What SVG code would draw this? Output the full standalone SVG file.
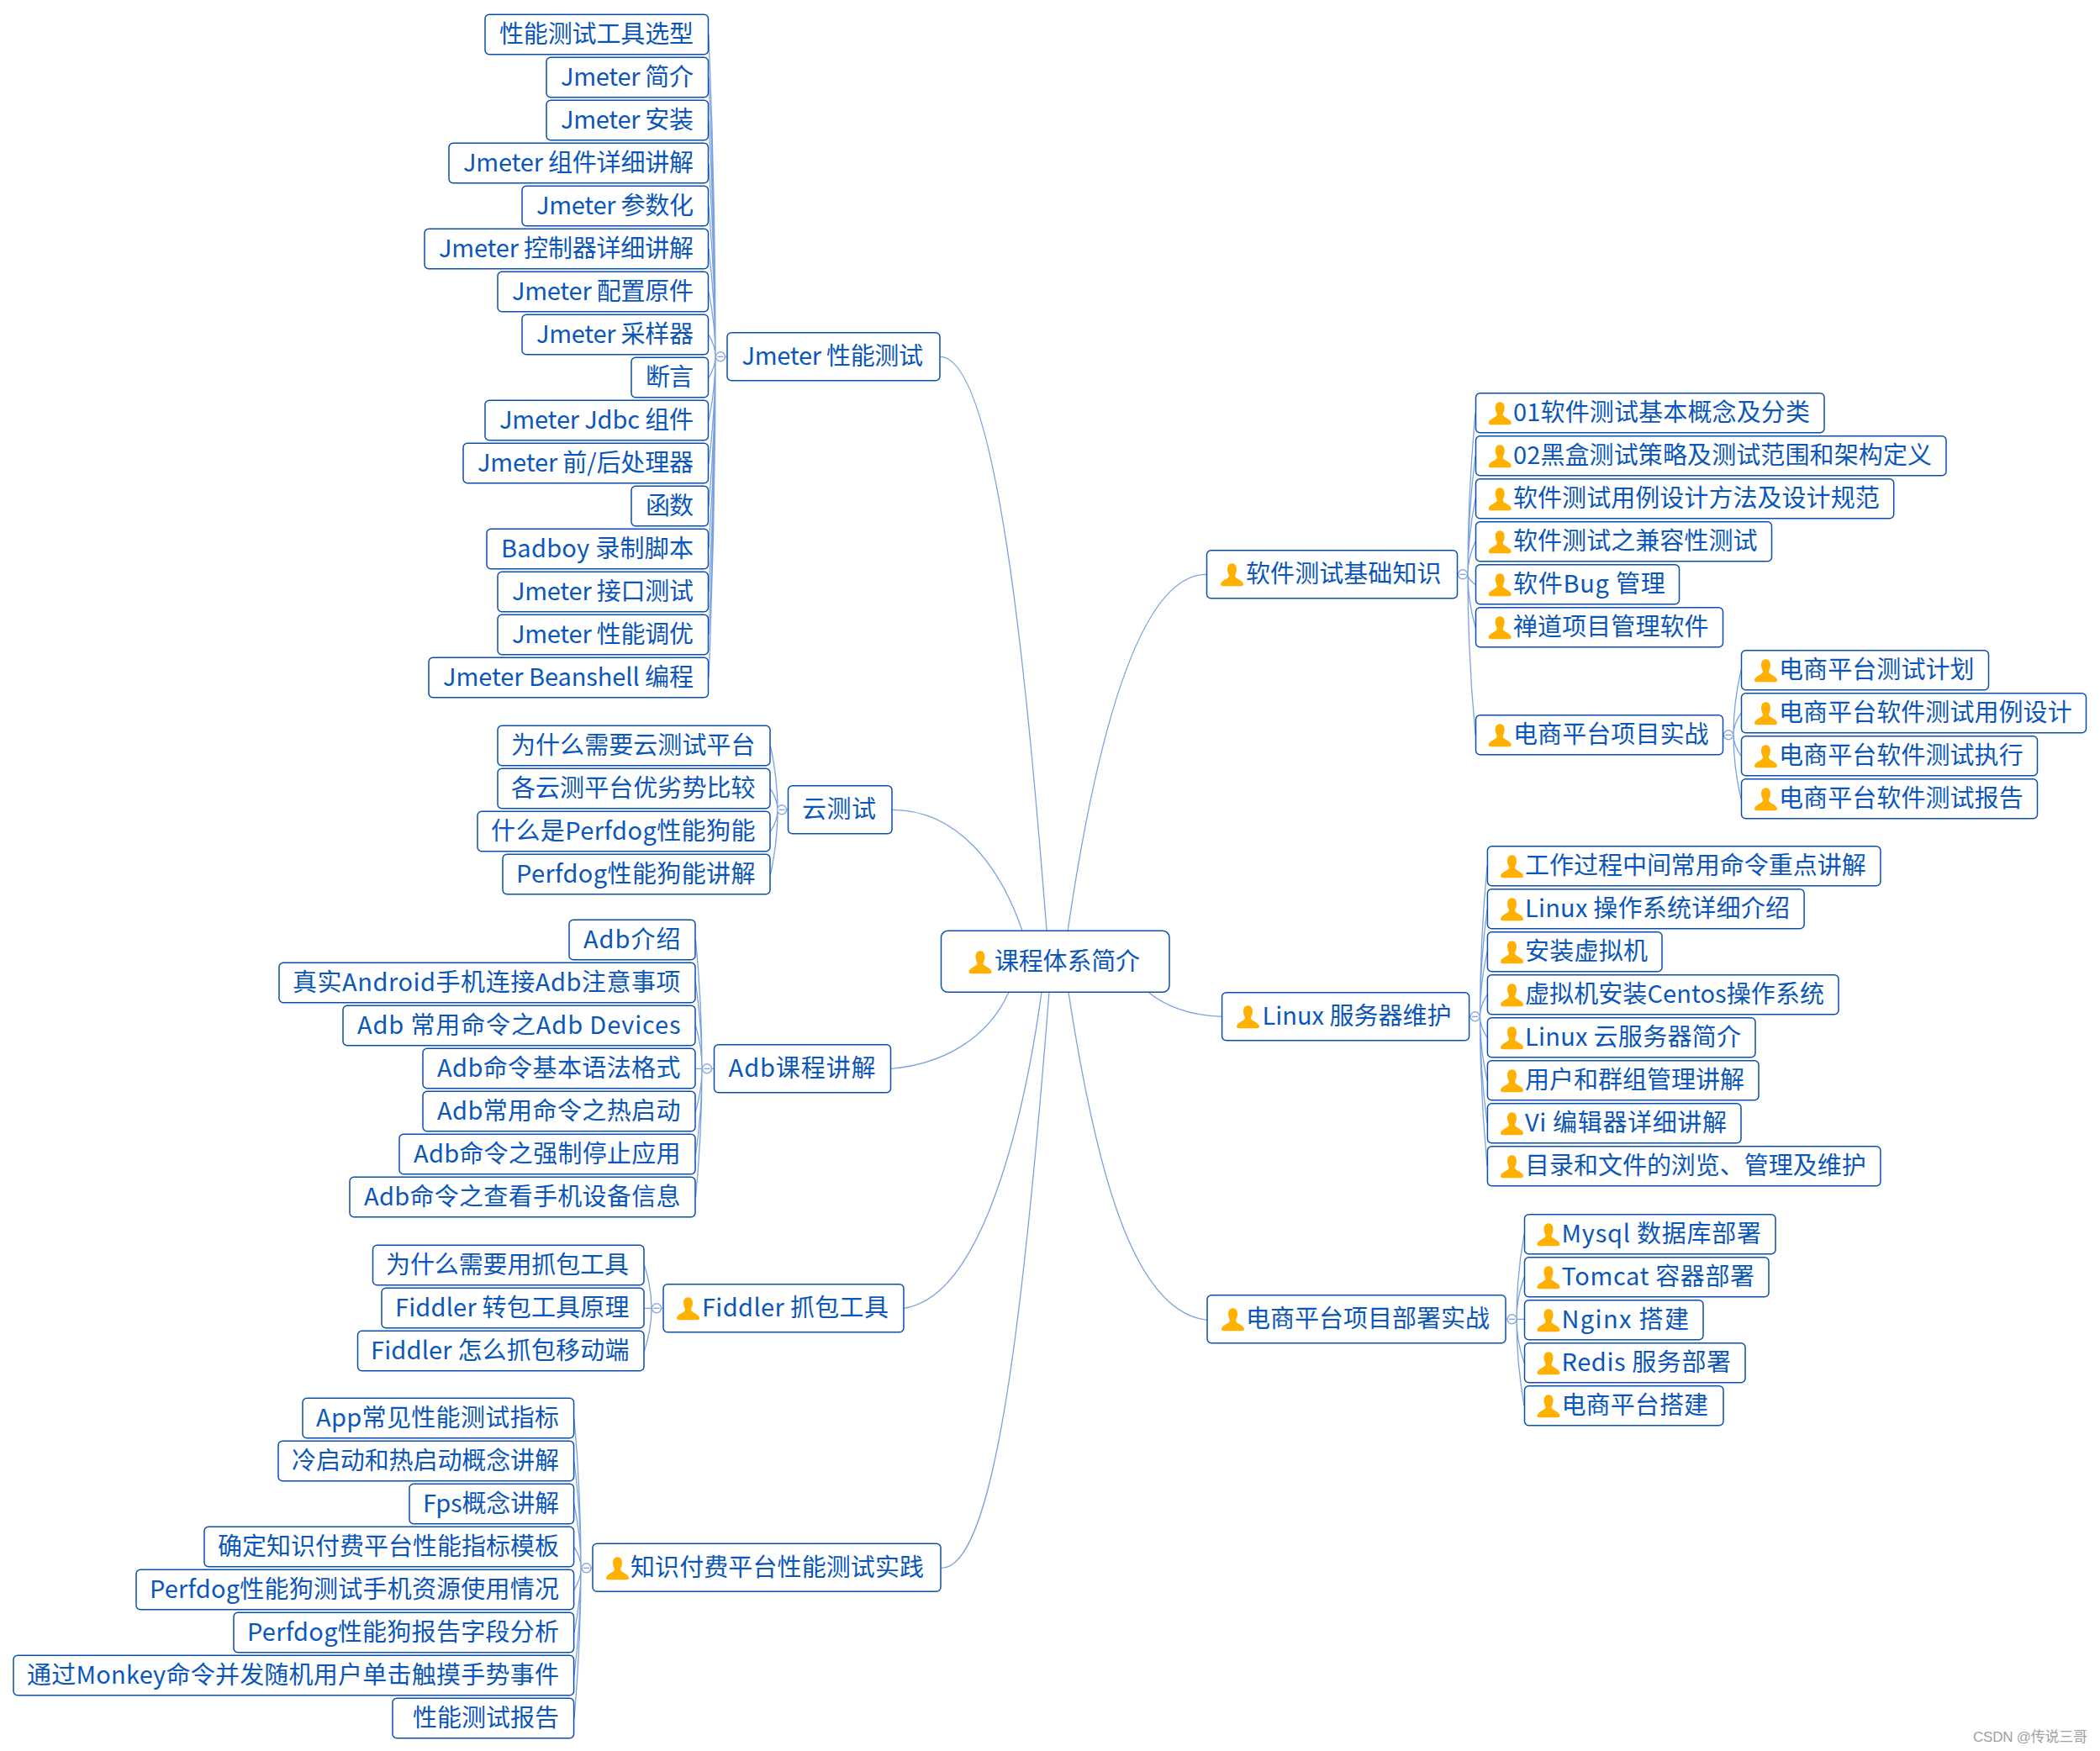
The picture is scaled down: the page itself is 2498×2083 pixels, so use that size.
<svg xmlns="http://www.w3.org/2000/svg" xmlns:xlink="http://www.w3.org/1999/xlink" width="2498" height="2083" viewBox="0 0 2498 2083">
<style>
.b{fill:#fff;stroke:#0a4fb0;stroke-width:1.5}
.t{font-family:"Noto Sans CJK SC","Noto Sans",sans-serif;font-size:29px;fill:#0b57b9}
.c{fill:none;stroke:#7ba2de;stroke-width:1.3}
.k{fill:#fff;stroke:#86a8de;stroke-width:1.4}
.w{font-family:"Liberation Sans","Noto Sans CJK SC",sans-serif;font-size:17px;fill:#a0a0a0}
</style>
<defs>
<path id="p" fill="#ffb000" d="M13.5 0C9.5 0 8 3.5 8 7C8 11 10 13 10 15C10 18 0 20 0 25C0 27 3 27 5 27H22C24 27 27 27 27 25C27 20 17 18 17 15C17 13 19 11 19 7C19 3.5 17.5 0 13.5 0Z"/>
<g id="m"><circle class="k" r="5.5"/><path class="c" d="M-3.5 0H3.5"/></g>
</defs>
<rect width="2498" height="2083" fill="#fff"/>
<g transform="translate(0 1.3)">
<g id="connectors">
<path class="c" d="M1118 423C1190 423 1225 850 1248 1142"/>
<path class="c" d="M1435 682C1340 682 1290 960 1265 1142"/>
<path class="c" d="M1061 962C1140 962 1190 1030 1216 1106"/>
<path class="c" d="M1060 1270C1120 1265 1175 1235 1200 1179"/>
<path class="c" d="M1075 1555C1180 1540 1225 1280 1239 1179"/>
<path class="c" d="M1120 1864C1180 1864 1215 1600 1248 1179"/>
<path class="c" d="M1453 1208C1415 1207 1385 1195 1366 1179"/>
<path class="c" d="M1436 1569C1350 1560 1305 1400 1271 1179"/>
<path class="c" d="M865 423H851M843 40Q851 231 851 423M843 91Q851 257 851 423M843 142Q851 282 851 423M843 193Q851 308 851 423M843 244Q851 333 851 423M843 295Q851 359 851 423M843 346Q851 384 851 423M843 397Q851 410 851 423M843 448Q851 435 851 423M843 499Q851 461 851 423M843 550Q851 486 851 423M843 601Q851 512 851 423M843 652Q851 537 851 423M843 703Q851 563 851 423M843 754Q851 588 851 423M843 805Q851 614 851 423"/>
<path class="c" d="M937 962H925M916.5 886Q925 924 925 962M916.5 937Q925 950 925 962M916.5 988Q925 975 925 962M916.5 1039Q925 1000 925 962"/>
<path class="c" d="M849 1270H827.5M827.5 1117Q835 1193 835 1270M827.5 1168Q835 1219 835 1270M827.5 1219Q835 1244 835 1270M827.5 1321Q835 1295 835 1270M827.5 1372Q835 1321 835 1270M827.5 1423Q835 1346 835 1270"/>
<path class="c" d="M789 1555H766.5M766.5 1504Q775 1530 775 1555M766.5 1606Q775 1580 775 1555"/>
<path class="c" d="M705 1864H691M683 1686Q691 1775 691 1864M683 1737Q691 1800 691 1864M683 1788Q691 1826 691 1864M683 1839Q691 1851 691 1864M683 1890Q691 1877 691 1864M683 1941Q691 1902 691 1864M683 1992Q691 1928 691 1864M683 2043Q691 1953 691 1864"/>
<path class="c" d="M1734 682H1746M1755 490Q1746 586 1746 682M1755 541Q1746 611 1746 682M1755 592Q1746 637 1746 682M1755 643Q1746 662 1746 682M1755 694Q1746 688 1746 682M1755 745Q1746 713 1746 682M1755 873Q1746 777 1746 682"/>
<path class="c" d="M2050 873H2062M2071 796Q2062 834 2062 873M2071 847Q2062 860 2062 873M2071 898Q2062 885 2062 873M2071 949Q2062 911 2062 873"/>
<path class="c" d="M1748 1208H1760.5M1769 1029Q1760.5 1118 1760.5 1208M1769 1080Q1760.5 1144 1760.5 1208M1769 1131Q1760.5 1169 1760.5 1208M1769 1182Q1760.5 1195 1760.5 1208M1769 1233Q1760.5 1220 1760.5 1208M1769 1284Q1760.5 1246 1760.5 1208M1769 1335Q1760.5 1271 1760.5 1208M1769 1386Q1760.5 1297 1760.5 1208"/>
<path class="c" d="M1791 1568H1813M1813 1467Q1804 1517 1804 1568M1813 1518Q1804 1543 1804 1568M1813 1620Q1804 1594 1804 1568M1813 1671Q1804 1619 1804 1568"/>
<use xlink:href="#m" href="#m" x="857" y="423"/>
<use xlink:href="#m" href="#m" x="930" y="962"/>
<use xlink:href="#m" href="#m" x="841" y="1270"/>
<use xlink:href="#m" href="#m" x="781" y="1555"/>
<use xlink:href="#m" href="#m" x="697.5" y="1864"/>
<use xlink:href="#m" href="#m" x="1740" y="682"/>
<use xlink:href="#m" href="#m" x="2056" y="873"/>
<use xlink:href="#m" href="#m" x="1754.6" y="1208"/>
<use xlink:href="#m" href="#m" x="1798.5" y="1568"/>
</g>

<g id="root"><rect class="b" rx="8" x="1119.5" y="1106" width="271.5" height="73"/><use href="#p" x="1152.5" y="1130"/><text class="t" x="1183" y="1153" textLength="173">课程体系简介</text></g>

<g id="jmeter"><rect class="b" rx="5" x="865" y="394.5" width="253" height="57"/><text class="t" x="882.6" y="433" textLength="215.5">Jmeter 性能测试</text></g>
<g id="j1"><rect class="b" rx="5" x="577" y="16" width="265.5" height="47.5"/><text class="t" x="594" y="50" textLength="231">性能测试工具选型</text></g>
<g id="j2"><rect class="b" rx="5" x="650" y="67" width="192.5" height="47.5"/><text class="t" x="667" y="101" textLength="158">Jmeter 简介</text></g>
<g id="j3"><rect class="b" rx="5" x="650" y="118" width="192.5" height="47.5"/><text class="t" x="667" y="152" textLength="158">Jmeter 安装</text></g>
<g id="j4"><rect class="b" rx="5" x="534" y="169" width="308.5" height="47.5"/><text class="t" x="551" y="203" textLength="274">Jmeter 组件详细讲解</text></g>
<g id="j5"><rect class="b" rx="5" x="621" y="220" width="221.5" height="47.5"/><text class="t" x="638" y="254" textLength="187">Jmeter 参数化</text></g>
<g id="j6"><rect class="b" rx="5" x="505" y="271" width="337.5" height="47.5"/><text class="t" x="522" y="305" textLength="303">Jmeter 控制器详细讲解</text></g>
<g id="j7"><rect class="b" rx="5" x="592" y="322" width="250.5" height="47.5"/><text class="t" x="609" y="356" textLength="216">Jmeter 配置原件</text></g>
<g id="j8"><rect class="b" rx="5" x="621" y="373" width="221.5" height="47.5"/><text class="t" x="638" y="407" textLength="187">Jmeter 采样器</text></g>
<g id="j9"><rect class="b" rx="5" x="751" y="424" width="91.5" height="47.5"/><text class="t" x="768" y="458" textLength="57">断言</text></g>
<g id="j10"><rect class="b" rx="5" x="577" y="475" width="265.5" height="47.5"/><text class="t" x="594" y="509" textLength="231">Jmeter Jdbc 组件</text></g>
<g id="j11"><rect class="b" rx="5" x="551" y="526" width="291.5" height="47.5"/><text class="t" x="568" y="560" textLength="257">Jmeter 前/后处理器</text></g>
<g id="j12"><rect class="b" rx="5" x="751" y="577" width="91.5" height="47.5"/><text class="t" x="768" y="611" textLength="57">函数</text></g>
<g id="j13"><rect class="b" rx="5" x="579" y="628" width="263.5" height="47.5"/><text class="t" x="596" y="662" textLength="229">Badboy 录制脚本</text></g>
<g id="j14"><rect class="b" rx="5" x="592" y="679" width="250.5" height="47.5"/><text class="t" x="609" y="713" textLength="216">Jmeter 接口测试</text></g>
<g id="j15"><rect class="b" rx="5" x="592" y="730" width="250.5" height="47.5"/><text class="t" x="609" y="764" textLength="216">Jmeter 性能调优</text></g>
<g id="j16"><rect class="b" rx="5" x="510" y="781" width="332.5" height="47.5"/><text class="t" x="527" y="815" textLength="298">Jmeter Beanshell 编程</text></g>

<g id="cloud"><rect class="b" rx="5" x="937.5" y="933.5" width="123.5" height="57"/><text class="t" x="954" y="972" textLength="88">云测试</text></g>
<g id="c1"><rect class="b" rx="5" x="592" y="862" width="324" height="47.5"/><text class="t" x="608" y="896" textLength="290.5">为什么需要云测试平台</text></g>
<g id="c2"><rect class="b" rx="5" x="592" y="913" width="324" height="47.5"/><text class="t" x="608" y="947" textLength="290.5">各云测平台优劣势比较</text></g>
<g id="c3"><rect class="b" rx="5" x="568" y="964" width="348" height="47.5"/><text class="t" x="584" y="998" textLength="314.5">什么是Perfdog性能狗能</text></g>
<g id="c4"><rect class="b" rx="5" x="598" y="1015" width="318" height="47.5"/><text class="t" x="614" y="1049" textLength="284.5">Perfdog性能狗能讲解</text></g>

<g id="adb"><rect class="b" rx="5" x="849.5" y="1241.5" width="210" height="57"/><text class="t" x="866.6" y="1280" textLength="175">Adb课程讲解</text></g>
<g id="a1"><rect class="b" rx="5" x="677" y="1093" width="150" height="47.5"/><text class="t" x="694" y="1127" textLength="115.5">Adb介绍</text></g>
<g id="a2"><rect class="b" rx="5" x="332" y="1144" width="495" height="47.5"/><text class="t" x="348" y="1178" textLength="461.5">真实Android手机连接Adb注意事项</text></g>
<g id="a3"><rect class="b" rx="5" x="408" y="1195" width="419" height="47.5"/><text class="t" x="425" y="1229" textLength="384.5">Adb 常用命令之Adb Devices</text></g>
<g id="a4"><rect class="b" rx="5" x="503" y="1246" width="324" height="47.5"/><text class="t" x="520" y="1280" textLength="289.5">Adb命令基本语法格式</text></g>
<g id="a5"><rect class="b" rx="5" x="503" y="1297" width="324" height="47.5"/><text class="t" x="520" y="1331" textLength="289.5">Adb常用命令之热启动</text></g>
<g id="a6"><rect class="b" rx="5" x="475" y="1348" width="352" height="47.5"/><text class="t" x="492" y="1382" textLength="317.5">Adb命令之强制停止应用</text></g>
<g id="a7"><rect class="b" rx="5" x="416" y="1399" width="411" height="47.5"/><text class="t" x="433" y="1433" textLength="376.5">Adb命令之查看手机设备信息</text></g>

<g id="fiddler"><rect class="b" rx="5" x="789" y="1526.5" width="286" height="57"/><use href="#p" x="805" y="1542"/><text class="t" x="835" y="1565" textLength="222">Fiddler 抓包工具</text></g>
<g id="f1"><rect class="b" rx="5" x="443.500" y="1480" width="322.500" height="47.5"/><text class="t" x="459" y="1514" textLength="289">为什么需要用抓包工具</text></g>
<g id="f2"><rect class="b" rx="5" x="454" y="1531" width="312" height="47.5"/><text class="t" x="470" y="1565" textLength="278.500">Fiddler 转包工具原理</text></g>
<g id="f3"><rect class="b" rx="5" x="425.500" y="1582" width="340.500" height="47.500"/><text class="t" x="441" y="1616" textLength="307.500">Fiddler 怎么抓包移动端</text></g>

<g id="paid"><rect class="b" rx="5" x="705" y="1835" width="414" height="57"/><use href="#p" x="721" y="1851"/><text class="t" x="750" y="1874" textLength="349">知识付费平台性能测试实践</text></g>
<g id="z1"><rect class="b" rx="5" x="360" y="1662" width="322.6" height="47.5"/><text class="t" x="376" y="1696" textLength="289">App常见性能测试指标</text></g>
<g id="z2"><rect class="b" rx="5" x="331" y="1713" width="351.6" height="47.5"/><text class="t" x="347" y="1747" textLength="318">冷启动和热启动概念讲解</text></g>
<g id="z3"><rect class="b" rx="5" x="487" y="1764" width="195.6" height="47.5"/><text class="t" x="503" y="1798" textLength="162">Fps概念讲解</text></g>
<g id="z4"><rect class="b" rx="5" x="243" y="1815" width="439.6" height="47.5"/><text class="t" x="259" y="1849" textLength="406">确定知识付费平台性能指标模板</text></g>
<g id="z5"><rect class="b" rx="5" x="162" y="1866" width="520.6" height="47.5"/><text class="t" x="178" y="1900" textLength="487">Perfdog性能狗测试手机资源使用情况</text></g>
<g id="z6"><rect class="b" rx="5" x="278" y="1917" width="404.6" height="47.5"/><text class="t" x="294" y="1951" textLength="371">Perfdog性能狗报告字段分析</text></g>
<g id="z7"><rect class="b" rx="5" x="16" y="1968" width="666.6" height="47.5"/><text class="t" x="32" y="2002" textLength="633">通过Monkey命令并发随机用户单击触摸手势事件</text></g>
<g id="z8"><rect class="b" rx="5" x="467" y="2019" width="215.6" height="47.5"/><text class="t" x="491" y="2053" textLength="174">性能测试报告</text></g>

<g id="basics"><rect class="b" rx="5" x="1435.5" y="653.5" width="298" height="57"/><use href="#p" x="1452" y="669"/><text class="t" x="1482" y="692" textLength="232.5">软件测试基础知识</text></g>
<g id="s1"><rect class="b" rx="5" x="1755.5" y="466.5" width="414.5" height="47"/><use href="#p" x="1770.7" y="477"/><text class="t" x="1800" y="500" textLength="353">01软件测试基本概念及分类</text></g>
<g id="s2"><rect class="b" rx="5" x="1755.5" y="517.5" width="559.5" height="47"/><use href="#p" x="1770.7" y="528"/><text class="t" x="1800" y="551" textLength="498">02黑盒测试策略及测试范围和架构定义</text></g>
<g id="s3"><rect class="b" rx="5" x="1755.5" y="568.5" width="497.2" height="47"/><use href="#p" x="1770.7" y="579"/><text class="t" x="1800" y="602" textLength="435.7">软件测试用例设计方法及设计规范</text></g>
<g id="s4"><rect class="b" rx="5" x="1755.5" y="619.5" width="352" height="47"/><use href="#p" x="1770.7" y="630"/><text class="t" x="1800" y="653" textLength="290.5">软件测试之兼容性测试</text></g>
<g id="s5"><rect class="b" rx="5" x="1755.5" y="670.5" width="242" height="47"/><use href="#p" x="1770.7" y="681"/><text class="t" x="1800" y="704" textLength="180.7">软件Bug 管理</text></g>
<g id="s6"><rect class="b" rx="5" x="1755.5" y="721.5" width="294" height="47"/><use href="#p" x="1770.7" y="732"/><text class="t" x="1800" y="755" textLength="232.6">禅道项目管理软件</text></g>
<g id="s7"><rect class="b" rx="5" x="1755.5" y="849.5" width="294" height="47"/><use href="#p" x="1770.7" y="860"/><text class="t" x="1800" y="883" textLength="232.6">电商平台项目实战</text></g>
<g id="e1"><rect class="b" rx="5" x="2071.5" y="772.5" width="294" height="47"/><use href="#p" x="2087" y="783"/><text class="t" x="2116" y="806" textLength="232.6">电商平台测试计划</text></g>
<g id="e2"><rect class="b" rx="5" x="2071.5" y="823.5" width="410" height="47"/><use href="#p" x="2087" y="834"/><text class="t" x="2116" y="857" textLength="348.7">电商平台软件测试用例设计</text></g>
<g id="e3"><rect class="b" rx="5" x="2071.5" y="874.5" width="352" height="47"/><use href="#p" x="2087" y="885"/><text class="t" x="2116" y="908" textLength="290.7">电商平台软件测试执行</text></g>
<g id="e4"><rect class="b" rx="5" x="2071.5" y="925.5" width="352" height="47"/><use href="#p" x="2087" y="936"/><text class="t" x="2116" y="959" textLength="290.7">电商平台软件测试报告</text></g>

<g id="linux"><rect class="b" rx="5" x="1453.6" y="1179.5" width="294" height="57"/><use href="#p" x="1471" y="1195"/><text class="t" x="1501.5" y="1218" textLength="225">Linux 服务器维护</text></g>
<g id="l1"><rect class="b" rx="5" x="1769.4" y="1005.5" width="467.500" height="47"/><use href="#p" x="1785" y="1016"/><text class="t" x="1814" y="1039" textLength="405.7">工作过程中间常用命令重点讲解</text></g>
<g id="l2"><rect class="b" rx="5" x="1769.4" y="1056.5" width="376.7" height="47"/><use href="#p" x="1785" y="1067"/><text class="t" x="1814" y="1090" textLength="315">Linux 操作系统详细介绍</text></g>
<g id="l3"><rect class="b" rx="5" x="1769.4" y="1107.5" width="207.6" height="47"/><use href="#p" x="1785" y="1118"/><text class="t" x="1814" y="1141" textLength="146">安装虚拟机</text></g>
<g id="l4"><rect class="b" rx="5" x="1769.4" y="1158.5" width="417.6" height="47"/><use href="#p" x="1785" y="1169"/><text class="t" x="1814" y="1192" textLength="356">虚拟机安装Centos操作系统</text></g>
<g id="l5"><rect class="b" rx="5" x="1769.4" y="1209.5" width="318.6" height="47"/><use href="#p" x="1785" y="1220"/><text class="t" x="1814" y="1243" textLength="257">Linux 云服务器简介</text></g>
<g id="l6"><rect class="b" rx="5" x="1769.4" y="1260.5" width="322.6" height="47"/><use href="#p" x="1785" y="1271"/><text class="t" x="1814" y="1294" textLength="261">用户和群组管理讲解</text></g>
<g id="l7"><rect class="b" rx="5" x="1769.4" y="1311.5" width="301.6" height="47"/><use href="#p" x="1785" y="1322"/><text class="t" x="1814" y="1345" textLength="240">Vi 编辑器详细讲解</text></g>
<g id="l8"><rect class="b" rx="5" x="1769.4" y="1362.5" width="467.500" height="47"/><use href="#p" x="1785" y="1373"/><text class="t" x="1814" y="1396" textLength="405.7">目录和文件的浏览、管理及维护</text></g>

<g id="deploy"><rect class="b" rx="5" x="1436" y="1539.5" width="355" height="57"/><use href="#p" x="1453" y="1555"/><text class="t" x="1482" y="1578" textLength="290">电商平台项目部署实战</text></g>
<g id="d1"><rect class="b" rx="5" x="1813.500" y="1443.5" width="298.500" height="47"/><use href="#p" x="1828.5" y="1454"/><text class="t" x="1857.5" y="1477" textLength="237.5">Mysql 数据库部署</text></g>
<g id="d2"><rect class="b" rx="5" x="1813.500" y="1494.5" width="290.500" height="47"/><use href="#p" x="1828.5" y="1505"/><text class="t" x="1857.5" y="1528" textLength="229.5">Tomcat 容器部署</text></g>
<g id="d3"><rect class="b" rx="5" x="1813.500" y="1545.5" width="212.500" height="47"/><use href="#p" x="1828.5" y="1556"/><text class="t" x="1857.5" y="1579" textLength="151.5">Nginx 搭建</text></g>
<g id="d4"><rect class="b" rx="5" x="1813.500" y="1596.5" width="262.500" height="47"/><use href="#p" x="1828.5" y="1607"/><text class="t" x="1857.5" y="1630" textLength="201.5">Redis 服务部署</text></g>
<g id="d5"><rect class="b" rx="5" x="1813.500" y="1647.5" width="236.500" height="47"/><use href="#p" x="1828.5" y="1658"/><text class="t" x="1857.5" y="1681" textLength="174.5">电商平台搭建</text></g>

<text class="w" x="2347" y="2071" textLength="136">CSDN @传说三哥</text>
</g>
</svg>
